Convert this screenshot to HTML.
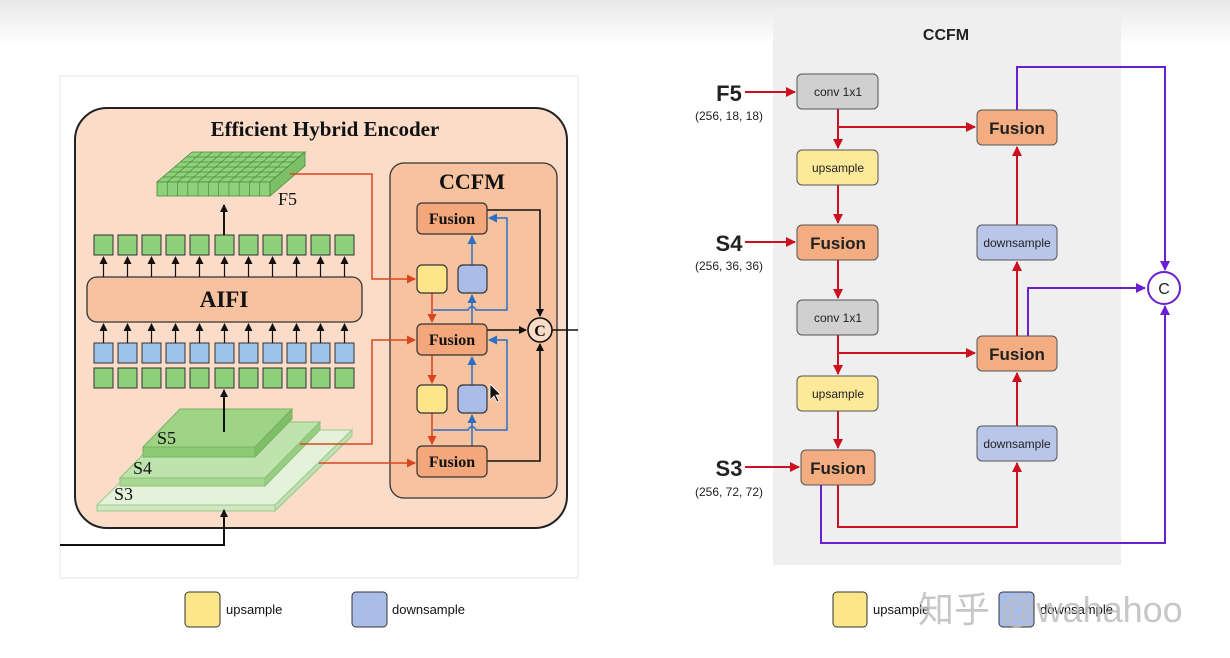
<!DOCTYPE html>
<html><head><meta charset="utf-8"><style>
html,body{margin:0;padding:0;}
body{width:1230px;height:658px;overflow:hidden;background:#fff;}
svg{display:block;}
</style></head><body>
<svg width="1230" height="658" viewBox="0 0 1230 658" xmlns="http://www.w3.org/2000/svg">
<defs>
<linearGradient id="tg" x1="0" y1="0" x2="0" y2="1"><stop offset="0" stop-color="#e8e8e8"/><stop offset="1" stop-color="#ffffff"/></linearGradient>
<marker id="ak" markerWidth="8" markerHeight="8" refX="7" refY="4" orient="auto" markerUnits="userSpaceOnUse"><path d="M0,0 L8,4 L0,8 z" fill="#111"/></marker>
<marker id="ar" markerWidth="9" markerHeight="9" refX="8" refY="4.5" orient="auto" markerUnits="userSpaceOnUse"><path d="M0,0 L9,4.5 L0,9 z" fill="#d9461e"/></marker>
<marker id="ab" markerWidth="9" markerHeight="9" refX="8" refY="4.5" orient="auto" markerUnits="userSpaceOnUse"><path d="M0,0 L9,4.5 L0,9 z" fill="#2a6fc2"/></marker>
<marker id="rr" markerWidth="10" markerHeight="10" refX="9" refY="5" orient="auto" markerUnits="userSpaceOnUse"><path d="M0,0 L10,5 L0,10 z" fill="#cc1020"/></marker>
<marker id="pp" markerWidth="10" markerHeight="10" refX="9" refY="5" orient="auto" markerUnits="userSpaceOnUse"><path d="M0,0 L10,5 L0,10 z" fill="#6a1fd0"/></marker>
</defs>
<rect x="0" y="0" width="1230" height="45" fill="url(#tg)"/>

<rect x="60" y="76" width="518" height="502" fill="#fff" stroke="#e4e4e4"/>
<rect x="75" y="108" width="492" height="420" rx="32" fill="#fbdcc8" stroke="#222" stroke-width="2"/>
<text x="325" y="136" font-family="Liberation Serif,serif" font-weight="bold" font-size="21" text-anchor="middle" fill="#111">Efficient Hybrid Encoder</text>
<rect x="390" y="163" width="167" height="335" rx="14" fill="#f7c2a0" stroke="#333" stroke-width="1.3"/>
<text x="472" y="189" font-family="Liberation Serif,serif" font-weight="bold" font-size="22" text-anchor="middle" fill="#111">CCFM</text>

<polygon points="157,182 270,182 305,152 192,152" fill="#8fd07a" stroke="#4a8a3a" stroke-width="0.8"/>
<polygon points="157,182 270,182 270,196 157,196" fill="#8fd07a" stroke="#4a8a3a" stroke-width="0.8"/>
<polygon points="270,182 305,152 305,166 270,196" fill="#7bbf66" stroke="#4a8a3a" stroke-width="0.8"/>
<g stroke="#4a8a3a" stroke-width="0.7">
<line x1="163" y1="177" x2="276" y2="177"/><line x1="169" y1="172" x2="282" y2="172"/><line x1="175" y1="167" x2="288" y2="167"/><line x1="181" y1="162" x2="294" y2="162"/><line x1="187" y1="157" x2="300" y2="157"/>
<line x1="167.3" y1="182" x2="202.3" y2="152"/><line x1="177.5" y1="182" x2="212.5" y2="152"/><line x1="187.8" y1="182" x2="222.8" y2="152"/><line x1="198" y1="182" x2="233" y2="152"/><line x1="208.4" y1="182" x2="243.4" y2="152"/><line x1="218.6" y1="182" x2="253.6" y2="152"/><line x1="228.9" y1="182" x2="263.9" y2="152"/><line x1="239.2" y1="182" x2="274.2" y2="152"/><line x1="249.5" y1="182" x2="284.5" y2="152"/><line x1="259.7" y1="182" x2="294.7" y2="152"/>
<line x1="167.3" y1="182" x2="167.3" y2="196"/><line x1="177.5" y1="182" x2="177.5" y2="196"/><line x1="187.8" y1="182" x2="187.8" y2="196"/><line x1="198" y1="182" x2="198" y2="196"/><line x1="208.4" y1="182" x2="208.4" y2="196"/><line x1="218.6" y1="182" x2="218.6" y2="196"/><line x1="228.9" y1="182" x2="228.9" y2="196"/><line x1="239.2" y1="182" x2="239.2" y2="196"/><line x1="249.5" y1="182" x2="249.5" y2="196"/><line x1="259.7" y1="182" x2="259.7" y2="196"/>
</g>
<text x="278" y="205" font-family="Liberation Serif,serif" font-size="18" fill="#111">F5</text>

<g stroke="#333" stroke-width="1">
<g fill="#8fd07a">
<rect x="94" y="235" width="19" height="20"/><rect x="118" y="235" width="19" height="20"/><rect x="142" y="235" width="19" height="20"/><rect x="166" y="235" width="19" height="20"/><rect x="190" y="235" width="19" height="20"/><rect x="215" y="235" width="19" height="20"/><rect x="239" y="235" width="19" height="20"/><rect x="263" y="235" width="19" height="20"/><rect x="287" y="235" width="19" height="20"/><rect x="311" y="235" width="19" height="20"/><rect x="335" y="235" width="19" height="20"/>
<rect x="94" y="368" width="19" height="20"/><rect x="118" y="368" width="19" height="20"/><rect x="142" y="368" width="19" height="20"/><rect x="166" y="368" width="19" height="20"/><rect x="190" y="368" width="19" height="20"/><rect x="215" y="368" width="19" height="20"/><rect x="239" y="368" width="19" height="20"/><rect x="263" y="368" width="19" height="20"/><rect x="287" y="368" width="19" height="20"/><rect x="311" y="368" width="19" height="20"/><rect x="335" y="368" width="19" height="20"/>
</g>
<g fill="#9ec3ea">
<rect x="94" y="343" width="19" height="20"/><rect x="118" y="343" width="19" height="20"/><rect x="142" y="343" width="19" height="20"/><rect x="166" y="343" width="19" height="20"/><rect x="190" y="343" width="19" height="20"/><rect x="215" y="343" width="19" height="20"/><rect x="239" y="343" width="19" height="20"/><rect x="263" y="343" width="19" height="20"/><rect x="287" y="343" width="19" height="20"/><rect x="311" y="343" width="19" height="20"/><rect x="335" y="343" width="19" height="20"/>
</g>
</g>
<rect x="87" y="277" width="275" height="45" rx="10" fill="#f7c2a0" stroke="#333" stroke-width="1.3"/>
<text x="224" y="307" font-family="Liberation Serif,serif" font-weight="bold" font-size="23" text-anchor="middle" fill="#111">AIFI</text>
<g stroke="#111" stroke-width="1.2" marker-end="url(#ak)">
<line x1="103.5" y1="277" x2="103.5" y2="257"/><line x1="127.5" y1="277" x2="127.5" y2="257"/><line x1="151.5" y1="277" x2="151.5" y2="257"/><line x1="175.5" y1="277" x2="175.5" y2="257"/><line x1="199.5" y1="277" x2="199.5" y2="257"/><line x1="224.5" y1="277" x2="224.5" y2="257"/><line x1="248.5" y1="277" x2="248.5" y2="257"/><line x1="272.5" y1="277" x2="272.5" y2="257"/><line x1="296.5" y1="277" x2="296.5" y2="257"/><line x1="320.5" y1="277" x2="320.5" y2="257"/><line x1="344.5" y1="277" x2="344.5" y2="257"/>
<line x1="103.5" y1="343" x2="103.5" y2="324"/><line x1="127.5" y1="343" x2="127.5" y2="324"/><line x1="151.5" y1="343" x2="151.5" y2="324"/><line x1="175.5" y1="343" x2="175.5" y2="324"/><line x1="199.5" y1="343" x2="199.5" y2="324"/><line x1="224.5" y1="343" x2="224.5" y2="324"/><line x1="248.5" y1="343" x2="248.5" y2="324"/><line x1="272.5" y1="343" x2="272.5" y2="324"/><line x1="296.5" y1="343" x2="296.5" y2="324"/><line x1="320.5" y1="343" x2="320.5" y2="324"/><line x1="344.5" y1="343" x2="344.5" y2="324"/>
</g>
<line x1="224" y1="235" x2="224" y2="205" stroke="#111" stroke-width="2" marker-end="url(#ak)"/>

<polygon points="97,505 275,505 352,430 174,430" fill="#e4f2dc" stroke="#9cc98a"/>
<polygon points="97,505 275,505 275,511 97,511" fill="#cfe8c2" stroke="#9cc98a"/>
<polygon points="275,505 352,430 352,436 275,511" fill="#bfe0b0" stroke="#9cc98a"/>
<polygon points="120,478 265,478 320,422 175,422" fill="#bfe3ad" stroke="#8cc276"/>
<polygon points="120,478 265,478 265,486 120,486" fill="#a8d892" stroke="#8cc276"/>
<polygon points="265,478 320,422 320,430 265,486" fill="#98cc82" stroke="#8cc276"/>
<polygon points="143,447 255,447 292,409 180,409" fill="#9fd487" stroke="#78b262"/>
<polygon points="143,447 255,447 255,457 143,457" fill="#8ccb72" stroke="#78b262"/>
<polygon points="255,447 292,409 292,419 255,457" fill="#7fbe66" stroke="#78b262"/>
<text x="157" y="444" font-family="Liberation Serif,serif" font-size="18" fill="#111">S5</text>
<text x="133" y="474" font-family="Liberation Serif,serif" font-size="18" fill="#111">S4</text>
<text x="114" y="500" font-family="Liberation Serif,serif" font-size="18" fill="#111">S3</text>
<line x1="224" y1="432" x2="224" y2="390" stroke="#111" stroke-width="2" marker-end="url(#ak)"/>
<polyline points="60,545 224,545 224,510" fill="none" stroke="#111" stroke-width="2" marker-end="url(#ak)"/>

<g fill="none" stroke="#d9461e" stroke-width="1.5">
<polyline points="290,174 372,174 372,279 415,279" marker-end="url(#ar)"/>
<polyline points="300,444 372,444 372,340 415,340" marker-end="url(#ar)"/>
<polyline points="319,463 415,463" marker-end="url(#ar)"/>
<line x1="432" y1="293" x2="432" y2="322" marker-end="url(#ar)"/>
<line x1="432" y1="355" x2="432" y2="383" marker-end="url(#ar)"/>
<line x1="432" y1="413" x2="432" y2="444" marker-end="url(#ar)"/>
</g>
<g fill="none" stroke="#2a6fc2" stroke-width="1.5">
<line x1="472" y1="265" x2="472" y2="236" marker-end="url(#ab)"/>
<line x1="472" y1="324" x2="472" y2="295" marker-end="url(#ab)"/>
<path d="M433,310 L468,310 Q472,303 476,310 L507,310 L507,218 L489,218" marker-end="url(#ab)"/>
<line x1="472" y1="385" x2="472" y2="357" marker-end="url(#ab)"/>
<line x1="472" y1="446" x2="472" y2="415" marker-end="url(#ab)"/>
<path d="M433,430 L468,430 Q472,423 476,430 L507,430 L507,340 L489,340" marker-end="url(#ab)"/>
</g>
<g fill="none" stroke="#111" stroke-width="1.6">
<polyline points="487,210 540,210 540,316" marker-end="url(#ak)"/>
<polyline points="487,461 540,461 540,344" marker-end="url(#ak)"/>
<line x1="487" y1="330" x2="526" y2="330" marker-end="url(#ak)"/>
<line x1="552" y1="330" x2="578" y2="330"/>
</g>
<circle cx="540" cy="330" r="12" fill="#fbdcc8" stroke="#111" stroke-width="1.6"/>
<text x="540" y="336" font-family="Liberation Serif,serif" font-weight="bold" font-size="16" text-anchor="middle" fill="#111">C</text>
<g stroke="#333" stroke-width="1.2">
<rect x="417" y="203" width="70" height="31" rx="5" fill="#f3a77a"/>
<rect x="417" y="324" width="70" height="31" rx="5" fill="#f3a77a"/>
<rect x="417" y="446" width="70" height="31" rx="5" fill="#f3a77a"/>
<rect x="417" y="265" width="30" height="28" rx="5" fill="#fde68a"/>
<rect x="458" y="265" width="29" height="28" rx="5" fill="#a9bde8"/>
<rect x="417" y="385" width="30" height="28" rx="5" fill="#fde68a"/>
<rect x="458" y="385" width="29" height="28" rx="5" fill="#a9bde8"/>
</g>
<g font-family="Liberation Serif,serif" font-weight="bold" font-size="16" text-anchor="middle" fill="#111">
<text x="452" y="224">Fusion</text><text x="452" y="345">Fusion</text><text x="452" y="467">Fusion</text>
</g>
<path d="M490,384 l0,16 l4,-4 l3,6 l2,-1 l-3,-6 l5,0 z" fill="#111" stroke="#fff" stroke-width="0.8"/>

<rect x="185" y="592" width="35" height="35" rx="4" fill="#fde68a" stroke="#333"/>
<text x="226" y="614" font-family="Liberation Sans,sans-serif" font-size="13" fill="#111">upsample</text>
<rect x="352" y="592" width="35" height="35" rx="4" fill="#a9bde8" stroke="#333"/>
<text x="392" y="614" font-family="Liberation Sans,sans-serif" font-size="13" fill="#111">downsample</text>

<rect x="773" y="9" width="348" height="556" fill="#efefef"/>
<text x="946" y="40" font-family="Liberation Sans,sans-serif" font-weight="bold" font-size="16" text-anchor="middle" fill="#222">CCFM</text>
<g font-family="Liberation Sans,sans-serif" text-anchor="middle" fill="#222">
<text x="729" y="101" font-weight="bold" font-size="22">F5</text>
<text x="729" y="120" font-size="12">(256, 18, 18)</text>
<text x="729" y="251" font-weight="bold" font-size="22">S4</text>
<text x="729" y="270" font-size="12">(256, 36, 36)</text>
<text x="729" y="476" font-weight="bold" font-size="22">S3</text>
<text x="729" y="496" font-size="12">(256, 72, 72)</text>
</g>
<g fill="none" stroke="#6a1fd0" stroke-width="2">
<polyline points="1017,110 1017,67 1165,67 1165,270" marker-end="url(#pp)"/>
<polyline points="1028,336 1028,288 1145,288" marker-end="url(#pp)"/>
<polyline points="821,485 821,543 1165,543 1165,306" marker-end="url(#pp)"/>
</g>
<circle cx="1164" cy="288" r="16" fill="#fff" stroke="#6a1fd0" stroke-width="2"/>
<text x="1164" y="294" font-family="Liberation Sans,sans-serif" font-size="16" text-anchor="middle" fill="#222">C</text>
<g fill="none" stroke="#cc1020" stroke-width="2">
<line x1="745" y1="92" x2="795" y2="92" marker-end="url(#rr)"/>
<line x1="745" y1="242" x2="795" y2="242" marker-end="url(#rr)"/>
<line x1="745" y1="467" x2="799" y2="467" marker-end="url(#rr)"/>
<line x1="838" y1="109" x2="838" y2="148" marker-end="url(#rr)"/>
<polyline points="838,127 975,127" marker-end="url(#rr)"/>
<line x1="838" y1="185" x2="838" y2="223" marker-end="url(#rr)"/>
<line x1="838" y1="260" x2="838" y2="298" marker-end="url(#rr)"/>
<line x1="838" y1="335" x2="838" y2="374" marker-end="url(#rr)"/>
<polyline points="838,353 975,353" marker-end="url(#rr)"/>
<line x1="838" y1="411" x2="838" y2="448" marker-end="url(#rr)"/>
<line x1="1017" y1="225" x2="1017" y2="147" marker-end="url(#rr)"/>
<line x1="1017" y1="336" x2="1017" y2="262" marker-end="url(#rr)"/>
<line x1="1017" y1="426" x2="1017" y2="373" marker-end="url(#rr)"/>
<polyline points="838,485 838,527 1017,527 1017,463" marker-end="url(#rr)"/>
</g>
<g stroke="#555" stroke-width="1">
<rect x="797" y="74" width="81" height="35" rx="5" fill="#d0d0d0"/>
<rect x="797" y="150" width="81" height="35" rx="5" fill="#fde99a"/>
<rect x="797" y="225" width="81" height="35" rx="5" fill="#f3ad80"/>
<rect x="797" y="300" width="81" height="35" rx="5" fill="#d0d0d0"/>
<rect x="797" y="376" width="81" height="35" rx="5" fill="#fde99a"/>
<rect x="801" y="450" width="74" height="35" rx="5" fill="#f3ad80"/>
<rect x="977" y="110" width="80" height="35" rx="5" fill="#f3ad80"/>
<rect x="977" y="225" width="80" height="35" rx="5" fill="#b9c6ea"/>
<rect x="977" y="336" width="80" height="35" rx="5" fill="#f3ad80"/>
<rect x="977" y="426" width="80" height="35" rx="5" fill="#b9c6ea"/>
</g>
<g font-family="Liberation Sans,sans-serif" text-anchor="middle" fill="#222">
<text x="838" y="96" font-size="12">conv 1x1</text>
<text x="838" y="172" font-size="12">upsample</text>
<text x="838" y="249" font-size="17" font-weight="bold">Fusion</text>
<text x="838" y="322" font-size="12">conv 1x1</text>
<text x="838" y="398" font-size="12">upsample</text>
<text x="838" y="474" font-size="17" font-weight="bold">Fusion</text>
<text x="1017" y="134" font-size="17" font-weight="bold">Fusion</text>
<text x="1017" y="247" font-size="12">downsample</text>
<text x="1017" y="360" font-size="17" font-weight="bold">Fusion</text>
<text x="1017" y="448" font-size="12">downsample</text>
</g>
<rect x="833" y="592" width="34" height="35" rx="4" fill="#fde68a" stroke="#333"/>
<text x="873" y="614" font-family="Liberation Sans,sans-serif" font-size="13" fill="#111">upsample</text>
<rect x="999" y="592" width="35" height="35" rx="4" fill="#a9bde8" stroke="#333"/>
<text x="1040" y="614" font-family="Liberation Sans,sans-serif" font-size="13" fill="#111">downsample</text>
<text x="918" y="622" font-family="Liberation Sans,'Noto Sans CJK SC',sans-serif" font-size="36" fill="#bdbdbd" fill-opacity="0.85">知乎 @wahahoo</text>
</svg>
</body></html>
